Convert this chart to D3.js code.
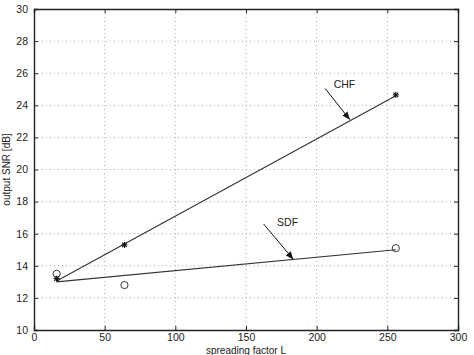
<!DOCTYPE html>
<html><head><meta charset="utf-8">
<script src="https://cdn.jsdelivr.net/npm/d3@7"></script>
<style>body{margin:0;background:#fff}svg{display:block}text{font-family:"Liberation Sans",Arial,sans-serif}</style>
</head><body><svg id="c" width="474" height="355"></svg>
<script>
const xTicks = [0,50,100,150,200,250,300];
const yTicks = [10,12,14,16,18,20,22,24,26,28,30];
const spreadL = [16,64,256];
const chfValues = [13.2,15.3,24.65];
const sdfValues = [13.5,12.8,15.1];
const chfFit = [[16,13.05],[256,24.6]];
const sdfFit = [[16,13.0],[256,15.0]];
const annotations = [
  {label:"CHF", tx:212, ty:25.1, from:[206,25.05], to:[223.5,23.1]},
  {label:"SDF", tx:172, ty:16.5, from:[162.5,16.6], to:[183.5,14.4]}
];

const svg = d3.select("#c");
const m = {l:34,r:16,t:9,b:25};
const W = 474, H = 355;
const x = d3.scaleLinear().domain([0,300]).range([m.l, W-m.r]);
const y = d3.scaleLinear().domain([10,30]).range([H-m.b, m.t]);

// grid
const g = svg.append("g");
g.selectAll(".gx").data(xTicks.slice(1,-1)).join("line")
  .attr("x1",d=>x(d)).attr("x2",d=>x(d)).attr("y1",y(10)).attr("y2",y(30))
  .attr("stroke","#999").attr("stroke-width",0.8).attr("stroke-dasharray","1,3");
g.selectAll(".gy").data(yTicks.slice(1,-1)).join("line")
  .attr("y1",d=>y(d)).attr("y2",d=>y(d)).attr("x1",x(0)).attr("x2",x(300))
  .attr("stroke","#999").attr("stroke-width",0.8).attr("stroke-dasharray","1,3");

// axes
const ax = svg.append("g").attr("transform",`translate(0,${y(10)})`)
  .call(d3.axisBottom(x).tickValues(xTicks).tickSize(-4).tickPadding(4));
const ax2 = svg.append("g").attr("transform",`translate(0,${y(30)})`)
  .call(d3.axisTop(x).tickValues(xTicks).tickSize(-4).tickFormat(""));
const ay = svg.append("g").attr("transform",`translate(${x(0)},0)`)
  .call(d3.axisLeft(y).tickValues(yTicks).tickSize(-4).tickPadding(6));
const ay2 = svg.append("g").attr("transform",`translate(${x(300)},0)`)
  .call(d3.axisRight(y).tickValues(yTicks).tickSize(-4).tickFormat(""));
[ax,ax2,ay,ay2].forEach(a=>{
  a.select(".domain").attr("stroke","#222").attr("stroke-width",1.4);
  a.selectAll(".tick line").attr("stroke","#222");
  a.selectAll("text").attr("font-size",10.5).attr("fill","#222")
   .style("font-family","'Liberation Sans',Arial,sans-serif");
});

// axis labels
svg.append("text").attr("x",(x(0)+x(300))/2).attr("y",354).attr("text-anchor","middle")
  .attr("font-size",10).attr("fill","#222").text("spreading factor L");
svg.append("text").attr("transform",`translate(10,${(y(10)+y(30))/2}) rotate(-90)`)
  .attr("text-anchor","middle").attr("font-size",10).attr("fill","#222").text("output SNR [dB]");

// fit lines
const line = d3.line().x(d=>x(d[0])).y(d=>y(d[1]));
svg.append("path").datum(chfFit).attr("d",line).attr("fill","none").attr("stroke","#333").attr("stroke-width",1.1);
svg.append("path").datum(sdfFit).attr("d",line).attr("fill","none").attr("stroke","#333").attr("stroke-width",1.1);

// markers
spreadL.forEach((L,i)=>{
  const cx=x(L), cy=y(chfValues[i]);
  const s=svg.append("g").attr("transform",`translate(${cx},${cy})`);
  [[-3,0,3,0],[0,-3,0,3],[-2.3,-2.3,2.3,2.3],[-2.3,2.3,2.3,-2.3]].forEach(p=>
    s.append("line").attr("x1",p[0]).attr("y1",p[1]).attr("x2",p[2]).attr("y2",p[3])
     .attr("stroke","#111").attr("stroke-width",1.1));
  svg.append("circle").attr("cx",x(L)).attr("cy",y(sdfValues[i])).attr("r",3.6)
    .attr("fill","none").attr("stroke","#222").attr("stroke-width",0.9);
});

// annotations
svg.append("defs").append("marker").attr("id","ah").attr("viewBox","0 0 10 10")
  .attr("refX",10).attr("refY",5).attr("markerWidth",8).attr("markerHeight",8)
  .attr("markerUnits","userSpaceOnUse").attr("orient","auto")
  .append("path").attr("d","M0,1 L10,5 L0,9 Z").attr("fill","#111");
annotations.forEach(a=>{
  svg.append("line").attr("x1",x(a.from[0])).attr("y1",y(a.from[1]))
    .attr("x2",x(a.to[0])).attr("y2",y(a.to[1])).attr("stroke","#111").attr("stroke-width",1)
    .attr("marker-end","url(#ah)");
  svg.append("text").attr("x",x(a.tx)).attr("y",y(a.ty)).attr("font-size",10.5).attr("fill","#222").text(a.label);
});
</script></body></html>
